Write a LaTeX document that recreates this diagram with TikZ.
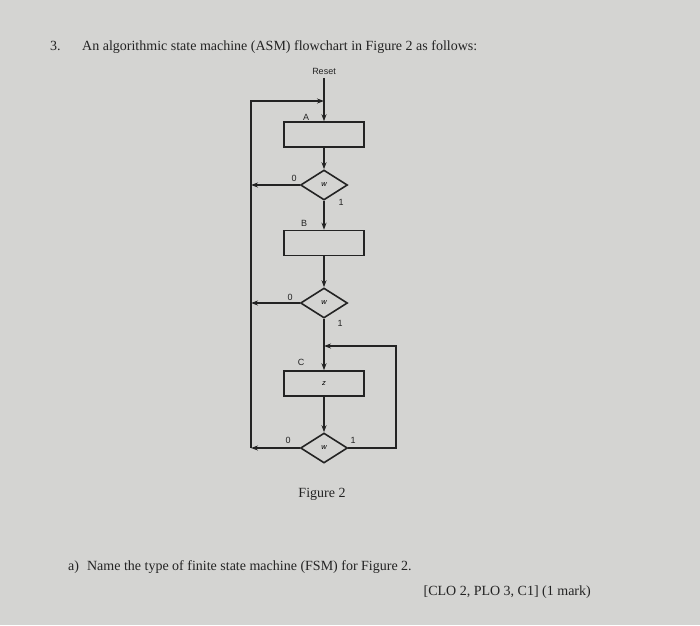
\documentclass[tikz,border=0pt]{standalone}
\usepackage{fontspec}
\setmainfont{Liberation Serif}
\setsansfont{Liberation Sans}
\usetikzlibrary{arrows.meta,shapes.geometric}
\definecolor{paper}{RGB}{212,212,210}
\definecolor{ink}{RGB}{35,35,35}
\tikzset{
  statebox/.style={draw=ink,line width=1.5pt,minimum width=80pt,minimum height=25pt,inner sep=0pt,font=\sffamily\itshape\fontsize{7.5}{8}\selectfont},
  testbox/.style={draw=ink,diamond,line width=1.6pt,minimum width=47pt,minimum height=30pt,inner sep=0pt,font=\sffamily\itshape\fontsize{7.5}{8}\selectfont},
  flow/.style={draw=ink,line width=1.5pt,-{Stealth[length=7pt,width=5pt]}},
  tag/.style={text=ink,font=\sffamily\fontsize{9}{10}\selectfont,inner sep=0pt},
  prose/.style={text=ink,font=\fontsize{14}{17}\selectfont,inner sep=0pt,anchor=base west}
}
\begin{document}
\begin{tikzpicture}[x=1pt,y=-1pt]
\fill[paper](0,0)rectangle(700,625);
\useasboundingbox(0,0)rectangle(700,625);
% question text
\node[prose](q3) at (50,50){3.};
\node[prose](qtext) at (82,50){An algorithmic state machine (ASM) flowchart in Figure 2 as follows:};
% chart
\node[tag,inner sep=3.5pt](reset) at (324,71){Reset};
\node[statebox](A) at (324,134.5){};
\node[testbox](wA) at (324,185){w};
\node[statebox](B) at (324,243){};
\node[testbox](wB) at (324,303){w};
\node[statebox](C) at (324,383.5){z};
\node[testbox](wC) at (324,448){w};
\node[tag] at (306,117){A};
\node[tag] at (304,223){B};
\node[tag] at (301,362){C};
\node[tag] at (294,178){0};
\node[tag] at (341,202){1};
\node[tag] at (290,297){0};
\node[tag] at (340,323){1};
\node[tag] at (288,440){0};
\node[tag] at (353,440){1};
\coordinate (topjoin) at (324,101);
\coordinate (lefttop) at (251,101);
\coordinate (leftbot) at (251,448);
\coordinate (rightjoin) at (324,346);
\coordinate (rightbot) at (396,448);
\coordinate (righttop) at (396,346);
\draw[flow](reset.south)--(A.north);
\draw[flow](A.south)--(wA.north);
\draw[flow](wA.south)--(B.north);
\draw[flow](B.south)--(wB.north);
\draw[flow](wB.south)--(C.north);
\draw[flow](C.south)--(wC.north);
\draw[flow](wA.west)--(wA.west-|lefttop);
\draw[flow](wB.west)--(wB.west-|lefttop);
\draw[flow](wC.west)--(leftbot);
\draw[flow](leftbot)--(lefttop)--(topjoin);
\draw[flow](wC.east)--(rightbot)--(righttop)--(rightjoin);
\node[text=ink,font=\fontsize{14}{17}\selectfont,inner sep=0pt](cap) at (322,494){Figure 2};
\node[prose](qa) at (68,570){a)\hspace{8pt}Name the type of finite state machine (FSM) for Figure 2.};
\node[prose,anchor=base east](mark) at (591,595){[CLO 2, PLO 3, C1] (1 mark)};
\end{tikzpicture}
\end{document}
